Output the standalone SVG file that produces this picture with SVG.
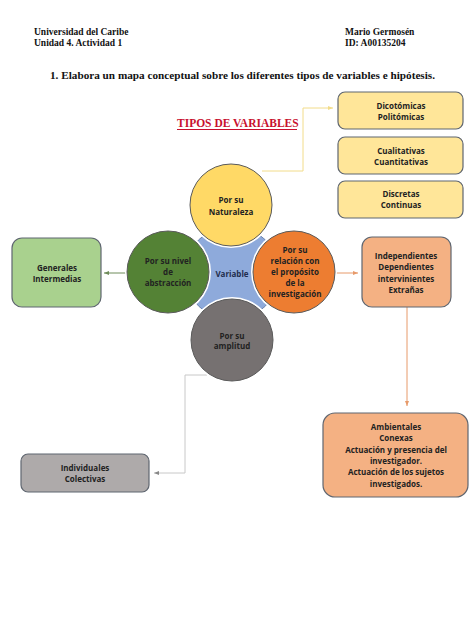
<svg xmlns="http://www.w3.org/2000/svg" width="474" height="632" viewBox="0 0 474 632">
<style>
.hdr{font-family:"Liberation Serif","Times New Roman",serif;font-weight:bold;font-size:9.5px;fill:#111}
.ttl{font-family:"Liberation Serif","Times New Roman",serif;font-weight:bold;font-size:11.4px;fill:#111}
.red{font-family:"Liberation Serif","Times New Roman",serif;font-weight:bold;font-size:11.5px;fill:#c8102e}
.t{font-family:"Open Sans","Liberation Sans",sans-serif;font-weight:bold;font-size:8px;fill:#222;text-anchor:middle}
.box{stroke:#5f6670;stroke-width:1.2}
.circ{stroke:#5a5a5a;stroke-width:1}
.con{fill:none;stroke-width:1}
</style>
<defs>
<marker id="aY" markerWidth="6" markerHeight="6" refX="5" refY="3" orient="auto" markerUnits="userSpaceOnUse"><path d="M0,1 L5,3 L0,5 z" fill="#f2dc8a"/></marker>
<marker id="aG" markerWidth="6" markerHeight="6" refX="5" refY="3" orient="auto" markerUnits="userSpaceOnUse"><path d="M0,1 L5,3 L0,5 z" fill="#6f8c5a"/></marker>
<marker id="aO" markerWidth="6" markerHeight="6" refX="5" refY="3" orient="auto" markerUnits="userSpaceOnUse"><path d="M0,1 L5,3 L0,5 z" fill="#e79a6a"/></marker>
<marker id="aK" markerWidth="6" markerHeight="6" refX="5" refY="3" orient="auto" markerUnits="userSpaceOnUse"><path d="M0,1 L5,3 L0,5 z" fill="#888"/></marker>
</defs>
<rect width="474" height="632" fill="#fff"/>
<g id="header">
<text class="hdr" x="34" y="35">Universidad del Caribe</text>
<text class="hdr" x="34" y="46">Unidad 4. Actividad 1</text>
<text class="hdr" x="345" y="35">Mario Germosén</text>
<text class="hdr" x="345" y="46">ID: A00135204</text>
<text class="ttl" x="50" y="79" textLength="385" lengthAdjust="spacingAndGlyphs">1. Elabora un mapa conceptual sobre los diferentes tipos de variables e hipótesis.</text>
<text class="red" x="177" y="127">TIPOS DE VARIABLES</text>
<line x1="177" y1="129.5" x2="297" y2="129.5" stroke="#c8102e" stroke-width="1"/>
</g>
<g id="connectors">
<path class="con" d="M262,171 H303 V108 H333" stroke="#f2dc8a" marker-end="url(#aY)"/>
<path class="con" d="M127,273 H104" stroke="#6f8c5a" marker-end="url(#aG)"/>
<path class="con" d="M335,273 H358" stroke="#e79a6a" marker-end="url(#aO)"/>
<path class="con" d="M407,307 V406" stroke="#e79a6a" marker-end="url(#aO)"/>
<path class="con" d="M207,375 H185 V473 H154" stroke="#c8c8c8" marker-end="url(#aK)"/>
</g>
<g id="variable">
<circle cx="232" cy="273" r="47" fill="#8eaadb" stroke="#6f86b0" stroke-width="1"/>
<text class="t" x="232" y="277" style="fill:#1f2d4d">Variable</text>
</g>
<g id="naturaleza">
<circle cx="231" cy="205" r="43" fill="#fff"/>
<circle class="circ" cx="231" cy="205" r="41" fill="#ffd966"/>
<text class="t" x="231" y="203">Por su</text>
<text class="t" x="231" y="215">Naturaleza</text>
</g>
<g id="abstraccion">
<circle cx="168" cy="272" r="43" fill="#fff"/>
<circle class="circ" cx="168" cy="272" r="41" fill="#548235"/>
<text class="t" x="168" y="264">Por su nivel</text>
<text class="t" x="168" y="275">de</text>
<text class="t" x="168" y="286">abstracción</text>
</g>
<g id="proposito">
<circle cx="294" cy="272" r="43" fill="#fff"/>
<circle class="circ" cx="294" cy="272" r="41" fill="#ed7d31"/>
<text class="t" x="295" y="253">Por su</text>
<text class="t" x="295" y="264">relación con</text>
<text class="t" x="295" y="275">el propósito</text>
<text class="t" x="295" y="286">de la</text>
<text class="t" x="295" y="297">investigación</text>
</g>
<g id="amplitud">
<circle cx="232" cy="340" r="43" fill="#fff"/>
<circle class="circ" cx="232" cy="340" r="41" fill="#767171"/>
<text class="t" x="232" y="339">Por su</text>
<text class="t" x="232" y="349">amplitud</text>
</g>
<g id="box-dicotomicas">
<rect class="box" x="338" y="92" width="125" height="37" rx="7" fill="#ffe699"/>
<text class="t" x="401" y="109">Dicotómicas</text>
<text class="t" x="401" y="120">Politómicas</text>
</g>
<g id="box-cualitativas">
<rect class="box" x="338" y="137" width="125" height="37" rx="7" fill="#ffe699"/>
<text class="t" x="401" y="154">Cualitativas</text>
<text class="t" x="401" y="165">Cuantitativas</text>
</g>
<g id="box-discretas">
<rect class="box" x="338" y="181" width="125" height="37" rx="7" fill="#ffe699"/>
<text class="t" x="401" y="197">Discretas</text>
<text class="t" x="401" y="208">Continuas</text>
</g>
<g id="box-generales">
<rect class="box" x="12" y="238" width="89" height="69" rx="10" fill="#a9d18e"/>
<text class="t" x="57" y="271">Generales</text>
<text class="t" x="57" y="282">Intermedias</text>
</g>
<g id="box-independientes">
<rect class="box" x="362" y="237" width="89" height="70" rx="10" fill="#f4b183"/>
<text class="t" x="406" y="259">Independientes</text>
<text class="t" x="406" y="270">Dependientes</text>
<text class="t" x="406" y="282">intervinientes</text>
<text class="t" x="406" y="293">Extrañas</text>
</g>
<g id="box-ambientales">
<rect class="box" x="323" y="413" width="145" height="84" rx="12" fill="#f4b183"/>
<text class="t" x="396" y="430">Ambientales</text>
<text class="t" x="396" y="441">Conexas</text>
<text class="t" x="396" y="453">Actuación y presencia del</text>
<text class="t" x="396" y="464">investigador.</text>
<text class="t" x="396" y="475">Actuación de los sujetos</text>
<text class="t" x="396" y="487">investigados.</text>
</g>
<g id="box-individuales">
<rect class="box" x="21" y="454" width="128" height="38" rx="7" fill="#aeaaaa"/>
<text class="t" x="85" y="471">Individuales</text>
<text class="t" x="85" y="482">Colectivas</text>
</g>
</svg>
